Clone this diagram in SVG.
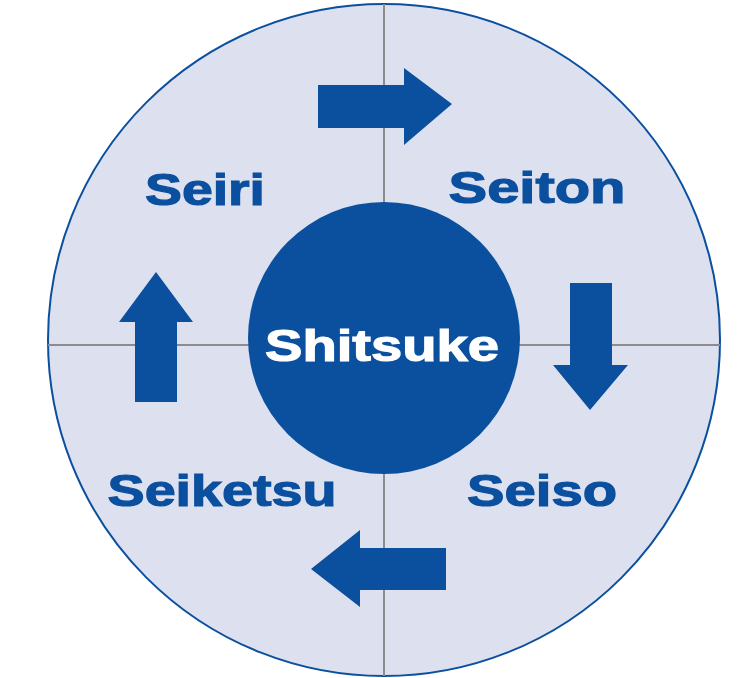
<svg xmlns="http://www.w3.org/2000/svg" width="749" height="678" viewBox="0 0 749 678">
<style>
.l{font-family:"Liberation Sans",Arial,sans-serif;font-weight:bold;font-size:45px;fill:#0b4f9f;stroke:#0b4f9f;stroke-width:1.2;text-anchor:middle}
.a{fill:#0b4f9f}
</style>
<rect width="749" height="678" fill="#fff"/>
<g id="ring">
<circle cx="384" cy="340" r="336" fill="#dde1ef" stroke="#0b4f9f" stroke-width="2"/>
<line x1="48" y1="345" x2="720" y2="345" stroke="#8c8c8c" stroke-width="2"/>
<line x1="384" y1="4" x2="384" y2="676" stroke="#8c8c8c" stroke-width="2"/>
</g>
<g id="shitsuke">
<circle cx="384" cy="338" r="136" fill="#0b4f9f"/>
<text x="382" y="361" class="l" style="fill:#fff;stroke:#fff" textLength="234" lengthAdjust="spacingAndGlyphs">Shitsuke</text>
</g>
<g id="seiri"><text x="205" y="205" class="l" textLength="120" lengthAdjust="spacingAndGlyphs">Seiri</text></g>
<g id="seiton"><text x="537" y="203" class="l" textLength="177" lengthAdjust="spacingAndGlyphs">Seiton</text></g>
<g id="seiketsu"><text x="222" y="506" class="l" textLength="229" lengthAdjust="spacingAndGlyphs">Seiketsu</text></g>
<g id="seiso"><text x="542" y="506" class="l" textLength="150" lengthAdjust="spacingAndGlyphs">Seiso</text></g>
<g id="connectors">
<polygon class="a" points="318,85 404,85 404,68 452,104 404,145 404,128 318,128"/>
<polygon class="a" points="570,283 612,283 612,365 628,365 590,410 553,365 570,365"/>
<polygon class="a" points="446,548 360,548 360,530 311,569 360,607 360,590 446,590"/>
<polygon class="a" points="135,402 177,402 177,322 193,322 156,272 119,322 135,322"/>
</g>
</svg>
